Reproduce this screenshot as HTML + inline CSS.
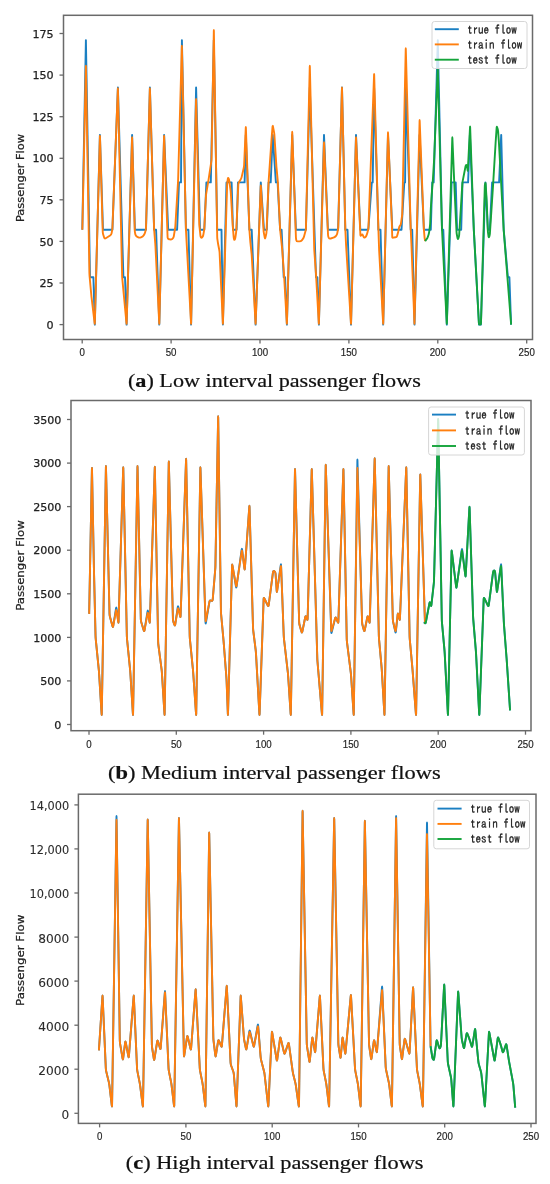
<!DOCTYPE html>
<html><head><meta charset="utf-8"><title>Passenger flows</title>
<style>
html,body{margin:0;padding:0;background:#fff;}
body{width:550px;height:1184px;overflow:hidden;}
svg{display:block;}
.yt{font-family:"DejaVu Sans",sans-serif;font-size:11.1px;fill:#222;stroke:#222;stroke-width:0.25px;}
.ytc{font-family:"DejaVu Sans",sans-serif;font-size:12.1px;fill:#2a2a2a;stroke:#2a2a2a;stroke-width:0.1px;}
.xt{font-family:"Liberation Sans",sans-serif;font-size:11.4px;fill:#262626;stroke:#262626;stroke-width:0.2px;}
.yl{font-family:"DejaVu Sans",sans-serif;font-size:11.2px;fill:#222;stroke:#222;stroke-width:0.25px;}
.lg{font-family:"IPAGothic","DejaVu Sans Mono",monospace;font-size:12.3px;fill:#1a1a1a;stroke:#1a1a1a;stroke-width:0.3px;}
.cap{font-family:"Liberation Serif",serif;font-size:18.2px;fill:#111;stroke:#111;stroke-width:0.2px;}
</style></head>
<body>
<svg width="550" height="1184" viewBox="0 0 550 1184">
<rect x="0" y="0" width="550" height="1184" fill="#fff"/>
<polyline points="82.3,229.8 85.9,40.1 90.0,277.2 93.4,277.2 94.8,324.6 99.9,134.9 103.0,229.8 112.4,229.8 117.9,87.5 123.4,277.2 125.0,277.2 126.6,324.6 132.1,134.9 134.9,229.8 146.0,229.8 149.9,87.5 154.1,229.8 156.1,229.8 159.3,324.6 164.1,134.9 168.2,229.8 177.1,229.8 179.0,182.4 181.0,182.4 181.9,40.1 185.9,229.8 188.4,229.8 191.1,324.6 196.1,87.5 200.0,229.8 204.3,229.8 206.4,182.4 210.8,182.4 213.8,40.1 217.2,229.8 221.5,229.8 222.9,324.6 226.5,182.4 231.6,182.4 233.0,229.8 236.6,229.8 238.0,182.4 244.6,182.4 245.8,134.9 249.4,229.8 251.7,229.8 255.6,324.6 260.8,182.4 264.0,229.8 266.8,229.8 268.6,182.4 270.7,182.4 272.7,134.9 275.9,182.4 277.6,182.4 280.1,229.8 281.6,229.8 283.7,277.2 285.1,277.2 286.9,324.6 292.2,134.9 295.9,229.8 305.9,229.8 309.8,87.5 316.0,277.2 317.4,277.2 318.9,324.6 324.0,134.9 327.9,229.8 338.1,229.8 342.0,87.5 345.3,229.8 347.5,229.8 351.0,324.6 356.0,134.9 360.3,229.8 368.3,229.8 371.8,182.4 372.7,182.4 374.1,87.5 378.4,229.8 380.5,229.8 383.2,324.6 388.0,134.9 392.3,229.8 401.5,229.8 404.3,182.4 405.1,182.4 405.8,87.5 410.7,229.8 412.2,229.8 414.5,324.6 419.6,134.9 423.9,229.8 430.8,229.8 432.2,182.4 433.7,182.4 437.8,40.1 442.0,229.8 443.3,229.8 446.8,324.6 451.6,182.4 455.7,182.4 457.1,229.8 461.2,229.8 462.5,182.4 468.1,182.4 469.9,134.9 473.8,229.8 479.0,324.6 480.9,324.6 485.4,182.4 487.9,229.8 489.8,229.8 492.1,182.4 499.1,182.4 501.2,134.9 503.7,229.8 507.9,277.2 509.4,277.2 511.1,324.6" fill="none" stroke="#1a7fc2" stroke-width="1.9" stroke-linejoin="round" stroke-linecap="butt" />
<path d="M82.35,229.77L85.87,66.48Q85.90,65.08 85.93,66.48L89.43,273.29Q89.46,274.69 89.58,276.09L91.29,294.92Q91.41,296.32 91.58,297.71L94.62,323.21Q94.79,324.60 94.83,323.20L99.90,136.35Q99.94,134.95 99.98,136.35L102.74,231.70Q102.79,233.10 103.19,234.44L104.15,237.59Q104.56,238.92 105.75,238.19L110.12,235.50Q111.32,234.77 111.57,233.39L112.13,230.32Q112.38,228.94 112.44,227.54L117.84,88.94Q117.89,87.54 117.92,88.94L122.12,275.79Q122.15,277.19 122.29,278.58L126.47,323.21Q126.60,324.60 126.64,323.20L132.06,138.01Q132.11,136.61 132.15,138.01L134.73,230.04Q134.77,231.44 135.04,232.81L135.39,234.56Q135.66,235.93 136.91,236.57L138.32,237.29Q139.57,237.93 140.86,237.39L141.48,237.13Q142.77,236.60 143.55,235.43L144.12,234.60Q144.90,233.43 145.22,232.07L145.64,230.31Q145.97,228.94 146.01,227.54L149.84,88.94Q149.88,87.54 149.92,88.94L154.10,228.38Q154.14,229.77 154.26,231.17L155.27,243.35Q155.38,244.75 155.45,246.15L159.23,323.20Q159.29,324.60 159.33,323.20L164.06,136.35Q164.09,134.95 164.14,136.35L167.60,237.53Q167.65,238.92 169.01,239.24L169.84,239.44Q171.20,239.76 172.24,239.01L172.47,238.84Q173.51,238.09 173.73,236.71L175.06,228.50Q175.29,227.11 175.37,225.72L178.05,181.26Q178.13,179.87 178.17,178.47L181.82,46.51Q181.86,45.12 181.89,46.51L185.92,228.38Q185.95,229.77 186.02,231.17L186.59,241.69Q186.66,243.08 186.74,244.48L191.03,323.20Q191.10,324.60 191.13,323.20L196.05,99.75Q196.08,98.35 196.11,99.75L199.24,223.38Q199.28,224.78 199.43,226.18L200.37,235.04Q200.52,236.43 200.92,237.25L201.01,237.44Q201.41,238.26 202.13,237.44L202.29,237.25Q203.01,236.43 203.27,235.05L203.99,231.15Q204.25,229.77 204.32,228.38L205.96,196.24Q206.03,194.84 206.26,193.46L208.47,180.08Q208.69,178.70 208.91,177.32L211.33,161.45Q211.54,160.07 211.56,158.67L213.82,30.71Q213.85,29.31 213.87,30.71L217.20,236.69Q217.22,238.09 217.42,239.48L217.74,241.70Q217.94,243.08 218.20,244.46L219.27,250.03Q219.53,251.40 219.60,252.80L222.85,323.20Q222.91,324.60 222.95,323.20L227.13,184.59Q227.18,183.19 227.38,181.81L227.86,178.59Q228.06,177.21 228.54,178.40L228.65,178.67Q229.13,179.87 229.32,181.25L230.54,190.13Q230.73,191.51 230.81,192.91L232.60,223.39Q232.68,224.78 232.80,226.18L233.64,236.70Q233.75,238.09 234.07,239.14L234.14,239.37Q234.46,240.42 234.86,239.37L234.95,239.14Q235.35,238.09 235.53,236.71L236.05,232.83Q236.24,231.44 236.30,230.04L237.24,209.55Q237.30,208.15 237.36,206.75L238.31,184.59Q238.37,183.19 239.10,182.00L240.67,179.40Q241.39,178.20 241.70,176.84L243.74,167.92Q244.06,166.56 244.12,165.16L245.77,127.53Q245.83,126.13 245.88,127.53L249.34,228.38Q249.39,229.77 249.49,231.17L250.17,240.02Q250.28,241.42 250.43,242.81L251.55,253.34Q251.70,254.73 251.78,256.13L255.53,323.20Q255.61,324.60 255.66,323.20L260.71,186.26Q260.76,184.86 260.85,186.25L263.52,230.04Q263.60,231.44 263.85,232.82L264.78,237.88Q265.03,239.26 265.34,237.89L266.13,234.47Q266.45,233.10 266.51,231.70L268.52,183.26Q268.58,181.86 268.68,180.47L271.50,139.67Q271.60,138.28 271.71,136.88L272.55,126.53Q272.67,125.13 272.94,126.51L274.00,131.91Q274.27,133.29 274.36,134.68L276.31,165.16Q276.40,166.56 276.53,167.95L277.69,180.14Q277.82,181.53 277.89,182.93L280.06,228.38Q280.13,229.77 280.28,231.17L282.11,248.35Q282.26,249.74 282.36,251.13L283.94,273.30Q284.04,274.69 284.12,276.09L286.80,323.20Q286.88,324.60 286.92,323.20L292.18,132.52Q292.21,131.12 292.26,132.52L295.90,236.69Q295.95,238.09 296.17,239.48L296.26,240.04Q296.48,241.42 297.88,241.42L299.52,241.42Q300.92,241.42 301.80,240.33L302.71,239.19Q303.59,238.09 303.96,236.74L305.52,231.12Q305.90,229.77 305.93,228.38L309.77,66.48Q309.81,65.08 309.84,66.48L314.21,248.34Q314.25,249.74 314.35,251.13L315.93,273.30Q316.03,274.69 316.11,276.09L318.79,323.20Q318.87,324.60 318.91,323.20L323.98,143.00Q324.02,141.60 324.08,143.00L327.52,223.39Q327.58,224.78 327.64,226.18L328.05,235.03Q328.11,236.43 328.67,237.55L328.79,237.80Q329.35,238.92 330.69,238.51L333.35,237.68Q334.68,237.26 335.64,236.23L336.04,235.79Q336.99,234.77 337.25,233.39L337.98,229.49Q338.24,228.11 338.27,226.71L341.93,88.27Q341.97,86.87 342.00,88.27L345.31,228.38Q345.35,229.77 345.41,231.17L345.99,243.35Q346.06,244.75 346.14,246.14L350.95,323.20Q351.03,324.60 351.07,323.20L355.97,138.01Q356.01,136.61 356.07,138.01L359.86,223.39Q359.92,224.78 359.98,226.18L360.39,235.03Q360.45,236.43 361.25,235.31L361.43,235.06Q362.23,233.93 362.82,235.20L363.59,236.83Q364.18,238.09 365.06,237.34L365.26,237.18Q366.14,236.43 366.59,235.10L367.11,233.59Q367.56,232.27 367.85,230.90L368.15,229.48Q368.45,228.11 368.50,226.71L374.08,74.63Q374.13,73.23 374.17,74.63L378.36,228.38Q378.40,229.77 378.45,231.17L379.06,248.34Q379.11,249.74 379.19,251.14L383.12,323.20Q383.20,324.60 383.23,323.20L387.96,133.02Q387.99,131.62 388.05,133.02L391.84,223.39Q391.90,224.78 391.94,226.18L392.22,236.69Q392.26,238.09 393.14,237.72L393.33,237.64Q394.21,237.26 395.33,237.26L395.58,237.26Q396.70,237.26 397.08,235.91L397.74,233.62Q398.12,232.27 398.42,230.90L399.07,227.82Q399.37,226.45 400.01,225.70L400.15,225.53Q400.79,224.78 400.99,223.40L402.01,216.19Q402.21,214.80 402.24,213.40L405.73,48.84Q405.76,47.44 405.80,48.84L410.70,228.38Q410.74,229.77 410.81,231.17L411.38,243.35Q411.45,244.75 411.50,246.15L414.42,323.20Q414.47,324.60 414.51,323.20L419.59,120.71Q419.62,119.31 419.68,120.71L423.84,228.38Q423.89,229.77 424.01,231.17L424.48,236.70Q424.60,238.09 424.84,239.44L425.13,241.09" fill="none" stroke="#ff7f0e" stroke-width="1.9" stroke-linejoin="round" stroke-linecap="butt"/>
<path d="M425.13,241.09L426.59,239.20Q427.44,238.09 427.87,236.76L428.62,234.44Q429.04,233.10 429.22,231.71L429.93,226.17Q430.11,224.78 430.17,223.39L430.76,209.55Q430.82,208.15 430.91,206.75L431.44,198.73Q431.53,197.33 431.64,195.94L432.66,182.93Q432.77,181.53 432.86,180.13L434.11,159.64Q434.20,158.24 434.25,156.84L437.69,69.80Q437.75,68.41 437.79,69.81L441.98,228.38Q442.01,229.77 442.09,231.17L446.74,323.20Q446.81,324.60 446.85,323.20L452.28,138.01Q452.32,136.61 452.38,138.01L454.57,190.11Q454.63,191.51 454.70,192.91L456.52,231.70Q456.59,233.10 456.84,234.48L457.57,238.38Q457.83,239.76 458.32,238.45L458.58,237.74Q459.07,236.43 459.16,235.03L462.36,183.59Q462.45,182.20 462.72,180.82L465.56,166.27Q465.83,164.89 466.31,164.89L466.41,164.89Q466.89,164.89 467.08,166.28L467.60,170.16Q467.78,171.55 467.85,170.15L470.02,127.03Q470.09,125.63 470.14,127.03L473.77,228.38Q473.82,229.77 473.90,231.17L478.90,323.20Q478.98,324.60 479.86,324.60L480.05,324.60Q480.93,324.60 480.97,323.20L484.80,186.26Q484.84,184.86 485.16,183.73L485.23,183.49Q485.55,182.36 485.64,183.76L486.53,198.43Q486.62,199.83 486.67,201.23L487.81,230.04Q487.86,231.44 488.05,232.83L488.56,236.71Q488.75,238.09 489.18,236.76L489.39,236.10Q489.82,234.77 489.91,233.37L493.10,184.59Q493.19,183.19 493.28,181.80L495.60,143.00Q495.68,141.60 495.78,140.21L496.65,127.53Q496.75,126.13 497.18,127.46L497.56,128.63Q497.99,129.96 498.10,131.35L498.77,140.21Q498.88,141.60 498.95,143.00L503.60,228.38Q503.68,229.77 503.79,231.17L511.14,324.60" fill="none" stroke="#14a43a" stroke-width="1.9" stroke-linejoin="round" stroke-linecap="butt"/>
<rect x="63.5" y="15.3" width="469.0" height="324.2" fill="none" stroke="#6a6a6a" stroke-width="1.5"/>
<line x1="59.5" y1="324.6" x2="63.5" y2="324.6" stroke="#6a6a6a" stroke-width="1.3"/>
<text x="53.6" y="328.7" text-anchor="end" class="yt">0</text>
<line x1="59.5" y1="283.0" x2="63.5" y2="283.0" stroke="#6a6a6a" stroke-width="1.3"/>
<text x="53.6" y="287.1" text-anchor="end" class="yt">25</text>
<line x1="59.5" y1="241.4" x2="63.5" y2="241.4" stroke="#6a6a6a" stroke-width="1.3"/>
<text x="53.6" y="245.5" text-anchor="end" class="yt">50</text>
<line x1="59.5" y1="199.8" x2="63.5" y2="199.8" stroke="#6a6a6a" stroke-width="1.3"/>
<text x="53.6" y="203.9" text-anchor="end" class="yt">75</text>
<line x1="59.5" y1="158.3" x2="63.5" y2="158.3" stroke="#6a6a6a" stroke-width="1.3"/>
<text x="53.6" y="162.4" text-anchor="end" class="yt">100</text>
<line x1="59.5" y1="116.7" x2="63.5" y2="116.7" stroke="#6a6a6a" stroke-width="1.3"/>
<text x="53.6" y="120.8" text-anchor="end" class="yt">125</text>
<line x1="59.5" y1="75.1" x2="63.5" y2="75.1" stroke="#6a6a6a" stroke-width="1.3"/>
<text x="53.6" y="79.2" text-anchor="end" class="yt">150</text>
<line x1="59.5" y1="33.5" x2="63.5" y2="33.5" stroke="#6a6a6a" stroke-width="1.3"/>
<text x="53.6" y="37.6" text-anchor="end" class="yt">175</text>
<line x1="82.2" y1="339.5" x2="82.2" y2="343.5" stroke="#6a6a6a" stroke-width="1.3"/>
<text x="82.2" y="356.3" text-anchor="middle" class="xt" textLength="5.4" lengthAdjust="spacingAndGlyphs">0</text>
<line x1="171.1" y1="339.5" x2="171.1" y2="343.5" stroke="#6a6a6a" stroke-width="1.3"/>
<text x="171.1" y="356.3" text-anchor="middle" class="xt" textLength="10.8" lengthAdjust="spacingAndGlyphs">50</text>
<line x1="260.0" y1="339.5" x2="260.0" y2="343.5" stroke="#6a6a6a" stroke-width="1.3"/>
<text x="260.0" y="356.3" text-anchor="middle" class="xt" textLength="16.2" lengthAdjust="spacingAndGlyphs">100</text>
<line x1="348.9" y1="339.5" x2="348.9" y2="343.5" stroke="#6a6a6a" stroke-width="1.3"/>
<text x="348.9" y="356.3" text-anchor="middle" class="xt" textLength="16.2" lengthAdjust="spacingAndGlyphs">150</text>
<line x1="437.8" y1="339.5" x2="437.8" y2="343.5" stroke="#6a6a6a" stroke-width="1.3"/>
<text x="437.8" y="356.3" text-anchor="middle" class="xt" textLength="16.2" lengthAdjust="spacingAndGlyphs">200</text>
<line x1="526.7" y1="339.5" x2="526.7" y2="343.5" stroke="#6a6a6a" stroke-width="1.3"/>
<text x="526.7" y="356.3" text-anchor="middle" class="xt" textLength="16.2" lengthAdjust="spacingAndGlyphs">250</text>
<text transform="translate(24,178) rotate(-90)" x="0" y="0" text-anchor="middle" class="yl" textLength="88" lengthAdjust="spacingAndGlyphs">Passenger Flow</text>
<rect x="432" y="21.5" width="95" height="47.0" rx="2.5" ry="2.5" fill="#ffffff" fill-opacity="0.8" stroke="#d6d6d6" stroke-width="1"/>
<line x1="434.8" y1="29.2" x2="458.8" y2="29.2" stroke="#1a7fc2" stroke-width="1.9"/>
<text x="466.9" y="33.5" class="lg" textLength="49.9" lengthAdjust="spacingAndGlyphs">true flow</text>
<line x1="434.8" y1="44.4" x2="458.8" y2="44.4" stroke="#ff7f0e" stroke-width="1.9"/>
<text x="466.9" y="48.7" class="lg" textLength="55.5" lengthAdjust="spacingAndGlyphs">train flow</text>
<line x1="434.8" y1="59.7" x2="458.8" y2="59.7" stroke="#14a43a" stroke-width="1.9"/>
<text x="466.9" y="64.0" class="lg" textLength="49.9" lengthAdjust="spacingAndGlyphs">test flow</text>
<path d="M89.16,613.87L91.92,468.90Q91.96,467.10 91.99,468.89L93.88,565.94Q93.91,567.74 93.95,569.54L95.54,635.83Q95.59,637.63 95.77,639.42L98.76,669.39Q98.94,671.18 99.05,672.97L101.62,714.11Q101.73,715.91 101.76,714.11L105.90,466.94Q105.93,465.14 105.97,466.94L109.51,613.46Q109.56,615.26 110.02,617.00L112.45,626.11Q112.91,627.84 113.19,626.07L116.02,608.38Q116.30,606.60 116.53,608.39L118.27,621.87Q118.50,623.65 118.55,621.85L123.19,468.06Q123.25,466.26 123.29,468.06L126.84,635.83Q126.88,637.63 127.06,639.42L130.06,669.39Q130.23,671.18 130.35,672.97L132.92,714.11Q133.03,715.91 133.06,714.11L137.47,466.94Q137.50,465.14 137.54,466.94L140.81,619.06Q140.85,620.86 141.37,622.58L143.69,630.31Q144.20,632.04 144.49,630.26L147.52,611.28Q147.80,609.50 148.05,611.28L149.54,621.87Q149.79,623.65 149.85,621.85L154.77,467.50Q154.82,465.70 154.86,467.50L158.14,641.42Q158.18,643.22 158.41,645.01L161.58,669.39Q161.81,671.18 161.92,672.97L164.49,714.11Q164.60,715.91 164.63,714.11L168.76,462.47Q168.79,460.67 168.84,462.46L172.94,619.06Q172.98,620.86 173.58,622.55L174.35,624.75Q174.94,626.45 175.20,624.67L177.74,607.08Q178.00,605.30 178.35,607.07L180.18,616.29Q180.53,618.06 180.59,616.26L186.05,459.67Q186.12,457.87 186.15,459.67L189.71,635.83Q189.75,637.63 189.93,639.42L192.92,669.39Q193.10,671.18 193.22,672.97L196.05,714.11Q196.17,715.91 196.20,714.11L200.34,468.06Q200.37,466.26 200.43,468.06L205.54,622.70Q205.60,624.50 205.90,622.73L209.48,601.66Q209.78,599.89 211.04,600.52L211.32,600.66Q212.57,601.29 212.72,599.49L215.22,569.53Q215.37,567.74 215.40,565.94L218.13,417.18Q218.16,415.38 218.19,417.18L220.93,610.67Q220.96,612.47 221.12,614.26L223.59,641.43Q223.75,643.22 223.89,645.02L226.41,677.77Q226.54,679.56 226.61,681.36L227.87,714.11Q227.94,715.91 227.99,714.11L232.08,565.34Q232.13,563.54 232.43,565.32L236.00,586.72Q236.30,588.50 236.55,586.72L241.65,549.58Q241.90,547.80 242.12,549.59L244.48,568.75Q244.71,570.53 244.84,568.74L249.33,506.63Q249.46,504.84 249.51,506.64L253.03,627.44Q253.09,629.24 253.31,631.03L255.66,649.82Q255.88,651.61 255.98,653.40L259.41,714.11Q259.51,715.91 259.58,714.11L263.64,598.89Q263.70,597.09 264.49,598.71L267.67,605.26Q268.45,606.88 268.69,605.09L272.97,572.32Q273.20,570.53 274.21,571.16L274.43,571.30Q275.44,571.93 275.56,573.73L276.72,591.10Q276.84,592.90 277.09,591.12L280.75,565.08Q281.00,563.30 281.07,565.10L283.75,635.83Q283.82,637.63 284.03,639.42L287.81,672.18Q288.01,673.97 288.13,675.77L290.69,714.11Q290.81,715.91 290.84,714.11L294.97,469.73Q295.00,467.93 295.05,469.73L299.14,621.85Q299.19,623.65 299.68,625.38L301.49,631.71Q301.98,633.44 302.34,631.67L305.26,617.03Q305.62,615.26 306.21,616.96L306.98,619.16Q307.57,620.86 307.62,619.06L311.71,469.73Q311.76,467.93 311.82,469.73L317.30,658.20Q317.35,659.99 317.50,661.79L321.95,714.11Q322.10,715.91 322.13,714.11L325.71,465.54Q325.73,463.74 325.79,465.54L331.24,632.20Q331.30,634.00 331.72,632.25L335.09,618.41Q335.51,616.66 336.18,618.33L337.64,621.98Q338.31,623.65 338.37,621.85L343.35,469.73Q343.41,467.93 343.45,469.73L346.73,638.63Q346.76,640.42 346.99,642.21L350.73,672.19Q350.96,673.97 351.08,675.77L353.63,714.11Q353.75,715.91 353.78,714.11L357.37,460.30Q357.40,458.50 357.45,460.30L362.08,621.85Q362.13,623.65 362.60,625.39L363.90,630.30Q364.37,632.04 364.72,630.27L367.37,617.03Q367.72,615.26 368.13,617.02L369.27,621.90Q369.68,623.65 369.73,621.85L374.65,459.11Q374.71,457.31 374.75,459.11L378.85,635.83Q378.90,637.63 379.06,639.42L381.53,666.59Q381.69,668.38 381.80,670.18L384.38,714.11Q384.48,715.91 384.51,714.11L388.65,466.94Q388.68,465.14 388.72,466.94L392.82,619.06Q392.87,620.86 393.26,622.61L395.31,631.74Q395.70,633.50 395.89,631.71L397.71,614.26Q397.90,612.47 398.30,614.22L399.44,619.10Q399.85,620.86 399.93,619.06L406.20,468.06Q406.28,466.26 406.31,468.06L409.60,635.83Q409.63,637.63 409.79,639.42L412.26,666.59Q412.43,668.38 412.56,670.18L415.92,714.11Q416.06,715.91 416.09,714.11L420.22,475.33Q420.25,473.53 420.31,475.32L424.94,621.85Q425.00,623.65 424.64,623.02L424.56,622.88Q424.20,622.25 424.83,622.88L424.97,623.02Q425.59,623.65 425.93,621.88L429.46,603.06Q429.79,601.29 430.23,603.03L430.75,605.13Q431.19,606.88 431.39,605.09L433.79,583.51Q433.99,581.72 434.03,579.92L438.14,419.97Q438.18,418.17 438.21,419.97L441.79,619.06Q441.82,620.86 441.98,622.65L444.45,649.81Q444.62,651.61 444.71,653.41L447.88,714.11Q447.97,715.91 448.01,714.11L451.57,551.37Q451.61,549.57 451.83,551.35L456.15,586.92Q456.36,588.71 456.61,586.92L461.75,549.78Q462.00,548.00 462.22,549.79L465.38,575.74Q465.59,577.52 465.69,575.73L469.41,507.47Q469.51,505.68 469.57,507.47L473.09,616.26Q473.15,618.06 473.30,619.85L475.79,649.81Q475.94,651.61 476.04,653.41L479.21,714.11Q479.30,715.91 479.37,714.11L483.71,598.89Q483.78,597.09 484.56,598.71L487.74,605.26Q488.53,606.88 488.76,605.09L493.05,572.32Q493.29,570.53 494.04,570.53L494.21,570.53Q494.97,570.53 495.12,572.33L496.77,591.11Q496.92,592.90 497.17,591.12L500.85,565.08Q501.10,563.30 501.18,565.10L503.83,621.85Q503.92,623.65 504.05,625.45L506.58,658.20Q506.71,659.99 506.83,661.79L510.07,710.32" fill="none" stroke="#1a7fc2" stroke-width="1.9" stroke-linejoin="round" stroke-linecap="butt"/>
<path d="M89.16,613.87L91.92,468.90Q91.96,467.10 91.99,468.89L93.88,565.94Q93.91,567.74 93.95,569.54L95.54,635.83Q95.59,637.63 95.77,639.42L98.76,669.39Q98.94,671.18 99.05,672.97L101.62,714.11Q101.73,715.91 101.76,714.11L105.90,466.94Q105.93,465.14 105.97,466.94L109.51,613.46Q109.56,615.26 110.02,617.00L112.45,626.11Q112.91,627.84 113.23,626.07L115.95,610.89Q116.26,609.11 116.54,610.89L118.23,621.87Q118.50,623.65 118.55,621.85L123.19,468.06Q123.25,466.26 123.29,468.06L126.84,635.83Q126.88,637.63 127.06,639.42L130.06,669.39Q130.23,671.18 130.35,672.97L132.92,714.11Q133.03,715.91 133.06,714.11L137.47,466.94Q137.50,465.14 137.54,466.94L140.81,619.06Q140.85,620.86 141.37,622.58L143.69,630.31Q144.20,632.04 144.52,630.27L147.52,613.68Q147.84,611.91 148.13,613.68L149.50,621.88Q149.79,623.65 149.85,621.85L154.77,467.50Q154.82,465.70 154.86,467.50L158.14,641.42Q158.18,643.22 158.41,645.01L161.58,669.39Q161.81,671.18 161.92,672.97L164.49,714.11Q164.60,715.91 164.63,714.11L168.76,462.47Q168.79,460.67 168.84,462.46L172.94,619.06Q172.98,620.86 173.58,622.55L174.35,624.75Q174.94,626.45 175.23,624.67L177.73,609.21Q178.01,607.44 178.43,609.19L180.11,616.31Q180.53,618.06 180.59,616.26L186.05,459.67Q186.12,457.87 186.15,459.67L189.71,635.83Q189.75,637.63 189.93,639.42L192.92,669.39Q193.10,671.18 193.22,672.97L196.05,714.11Q196.17,715.91 196.20,714.11L200.34,468.06Q200.37,466.26 200.43,468.06L205.53,620.45Q205.59,622.25 205.92,620.48L209.45,601.66Q209.78,599.89 211.04,600.52L211.32,600.66Q212.57,601.29 212.72,599.49L215.22,569.53Q215.37,567.74 215.40,565.94L218.13,417.18Q218.16,415.38 218.19,417.18L220.93,610.67Q220.96,612.47 221.12,614.26L223.59,641.43Q223.75,643.22 223.89,645.02L226.41,677.77Q226.54,679.56 226.61,681.36L227.87,714.11Q227.94,715.91 227.99,714.11L232.08,565.34Q232.13,563.54 232.44,565.32L236.01,585.54Q236.32,587.31 236.59,585.53L241.65,551.35Q241.91,549.57 242.15,551.35L244.47,568.75Q244.71,570.53 244.84,568.74L249.33,506.63Q249.46,504.84 249.51,506.64L253.03,627.44Q253.09,629.24 253.31,631.03L255.66,649.82Q255.88,651.61 255.98,653.40L259.41,714.11Q259.51,715.91 259.58,714.11L263.64,598.89Q263.70,597.09 264.49,598.71L267.67,605.26Q268.45,606.88 268.69,605.09L272.97,572.32Q273.20,570.53 274.21,571.16L274.43,571.30Q275.44,571.93 275.56,573.73L276.72,591.10Q276.84,592.90 277.10,591.12L280.76,566.72Q281.03,564.94 281.10,566.74L283.75,635.83Q283.82,637.63 284.03,639.42L287.81,672.18Q288.01,673.97 288.13,675.77L290.69,714.11Q290.81,715.91 290.84,714.11L294.97,469.73Q295.00,467.93 295.05,469.73L299.14,621.85Q299.19,623.65 299.68,625.38L301.49,631.71Q301.98,633.44 302.34,631.67L305.26,617.03Q305.62,615.26 306.21,616.96L306.98,619.16Q307.57,620.86 307.62,619.06L311.71,469.73Q311.76,467.93 311.82,469.73L317.30,658.20Q317.35,659.99 317.50,661.79L321.95,714.11Q322.10,715.91 322.13,714.11L325.71,465.54Q325.73,463.74 325.79,465.54L331.26,630.24Q331.32,632.04 331.79,630.30L335.04,618.40Q335.51,616.66 336.18,618.33L337.64,621.98Q338.31,623.65 338.37,621.85L343.35,469.73Q343.41,467.93 343.45,469.73L346.73,638.63Q346.76,640.42 346.99,642.21L350.73,672.19Q350.96,673.97 351.08,675.77L353.63,714.11Q353.75,715.91 353.78,714.11L357.36,468.90Q357.38,467.10 357.44,468.89L362.08,621.85Q362.13,623.65 362.60,625.39L363.90,630.30Q364.37,632.04 364.72,630.27L367.37,617.03Q367.72,615.26 368.13,617.02L369.27,621.90Q369.68,623.65 369.73,621.85L374.65,459.11Q374.71,457.31 374.75,459.11L378.85,635.83Q378.90,637.63 379.06,639.42L381.53,666.59Q381.69,668.38 381.80,670.18L384.38,714.11Q384.48,715.91 384.51,714.11L388.65,466.94Q388.68,465.14 388.72,466.94L392.82,619.06Q392.87,620.86 393.30,622.60L395.22,630.29Q395.66,632.04 395.87,630.25L397.69,614.26Q397.90,612.47 398.30,614.22L399.44,619.10Q399.85,620.86 399.93,619.06L406.20,468.06Q406.28,466.26 406.31,468.06L409.60,635.83Q409.63,637.63 409.79,639.42L412.26,666.59Q412.43,668.38 412.56,670.18L415.92,714.11Q416.06,715.91 416.09,714.11L420.22,475.33Q420.25,473.53 420.31,475.32L425.00,623.65" fill="none" stroke="#ff7f0e" stroke-width="1.9" stroke-linejoin="round" stroke-linecap="butt"/>
<path d="M424.20,622.25L424.97,623.02Q425.59,623.65 425.93,621.88L429.46,603.06Q429.79,601.29 430.23,603.03L430.75,605.13Q431.19,606.88 431.39,605.09L433.79,583.51Q433.99,581.72 434.03,579.92L438.14,419.97Q438.18,418.17 438.21,419.97L441.79,619.06Q441.82,620.86 441.98,622.65L444.45,649.81Q444.62,651.61 444.71,653.41L447.88,714.11Q447.97,715.91 448.01,714.11L451.57,551.37Q451.61,549.57 451.83,551.35L456.15,586.92Q456.36,588.71 456.62,586.92L461.70,551.35Q461.96,549.57 462.19,551.35L465.36,575.74Q465.59,577.52 465.69,575.73L469.41,507.47Q469.51,505.68 469.57,507.47L473.09,616.26Q473.15,618.06 473.30,619.85L475.79,649.81Q475.94,651.61 476.04,653.41L479.21,714.11Q479.30,715.91 479.37,714.11L483.71,598.89Q483.78,597.09 484.56,598.71L487.74,605.26Q488.53,606.88 488.76,605.09L493.05,572.32Q493.29,570.53 494.04,570.53L494.21,570.53Q494.97,570.53 495.12,572.33L496.77,591.11Q496.92,592.90 497.19,591.12L500.85,566.72Q501.12,564.94 501.20,566.74L503.83,621.85Q503.92,623.65 504.05,625.45L506.58,658.20Q506.71,659.99 506.83,661.79L510.07,710.32" fill="none" stroke="#14a43a" stroke-width="1.9" stroke-linejoin="round" stroke-linecap="butt"/>
<rect x="71" y="400.5" width="460" height="330.20000000000005" fill="none" stroke="#6a6a6a" stroke-width="1.5"/>
<line x1="67" y1="724.5" x2="71" y2="724.5" stroke="#6a6a6a" stroke-width="1.3"/>
<text x="61.4" y="728.6" text-anchor="end" class="yt">0</text>
<line x1="67" y1="680.9" x2="71" y2="680.9" stroke="#6a6a6a" stroke-width="1.3"/>
<text x="61.4" y="685.0" text-anchor="end" class="yt">500</text>
<line x1="67" y1="637.4" x2="71" y2="637.4" stroke="#6a6a6a" stroke-width="1.3"/>
<text x="61.4" y="641.5" text-anchor="end" class="yt">1000</text>
<line x1="67" y1="593.8" x2="71" y2="593.8" stroke="#6a6a6a" stroke-width="1.3"/>
<text x="61.4" y="597.9" text-anchor="end" class="yt">1500</text>
<line x1="67" y1="550.2" x2="71" y2="550.2" stroke="#6a6a6a" stroke-width="1.3"/>
<text x="61.4" y="554.3" text-anchor="end" class="yt">2000</text>
<line x1="67" y1="506.6" x2="71" y2="506.6" stroke="#6a6a6a" stroke-width="1.3"/>
<text x="61.4" y="510.7" text-anchor="end" class="yt">2500</text>
<line x1="67" y1="463.1" x2="71" y2="463.1" stroke="#6a6a6a" stroke-width="1.3"/>
<text x="61.4" y="467.2" text-anchor="end" class="yt">3000</text>
<line x1="67" y1="419.5" x2="71" y2="419.5" stroke="#6a6a6a" stroke-width="1.3"/>
<text x="61.4" y="423.6" text-anchor="end" class="yt">3500</text>
<line x1="89.0" y1="730.7" x2="89.0" y2="734.7" stroke="#6a6a6a" stroke-width="1.3"/>
<text x="89.0" y="747.6" text-anchor="middle" class="xt" textLength="5.4" lengthAdjust="spacingAndGlyphs">0</text>
<line x1="176.3" y1="730.7" x2="176.3" y2="734.7" stroke="#6a6a6a" stroke-width="1.3"/>
<text x="176.3" y="747.6" text-anchor="middle" class="xt" textLength="10.8" lengthAdjust="spacingAndGlyphs">50</text>
<line x1="263.6" y1="730.7" x2="263.6" y2="734.7" stroke="#6a6a6a" stroke-width="1.3"/>
<text x="263.6" y="747.6" text-anchor="middle" class="xt" textLength="16.2" lengthAdjust="spacingAndGlyphs">100</text>
<line x1="350.9" y1="730.7" x2="350.9" y2="734.7" stroke="#6a6a6a" stroke-width="1.3"/>
<text x="350.9" y="747.6" text-anchor="middle" class="xt" textLength="16.2" lengthAdjust="spacingAndGlyphs">150</text>
<line x1="438.2" y1="730.7" x2="438.2" y2="734.7" stroke="#6a6a6a" stroke-width="1.3"/>
<text x="438.2" y="747.6" text-anchor="middle" class="xt" textLength="16.2" lengthAdjust="spacingAndGlyphs">200</text>
<line x1="525.5" y1="730.7" x2="525.5" y2="734.7" stroke="#6a6a6a" stroke-width="1.3"/>
<text x="525.5" y="747.6" text-anchor="middle" class="xt" textLength="16.2" lengthAdjust="spacingAndGlyphs">250</text>
<text transform="translate(24,565.5) rotate(-90)" x="0" y="0" text-anchor="middle" class="yl" textLength="90.7" lengthAdjust="spacingAndGlyphs">Passenger Flow</text>
<rect x="428.6" y="407" width="95.79999999999995" height="48" rx="2.5" ry="2.5" fill="#ffffff" fill-opacity="0.8" stroke="#d6d6d6" stroke-width="1"/>
<line x1="432" y1="414.6" x2="456" y2="414.6" stroke="#1a7fc2" stroke-width="1.9"/>
<text x="464.6" y="418.9" class="lg" textLength="49.9" lengthAdjust="spacingAndGlyphs">true flow</text>
<line x1="432" y1="430.4" x2="456" y2="430.4" stroke="#ff7f0e" stroke-width="1.9"/>
<text x="464.6" y="434.7" class="lg" textLength="55.5" lengthAdjust="spacingAndGlyphs">train flow</text>
<line x1="432" y1="446" x2="456" y2="446" stroke="#14a43a" stroke-width="1.9"/>
<text x="464.6" y="450.3" class="lg" textLength="49.9" lengthAdjust="spacingAndGlyphs">test flow</text>
<path d="M98.91,1050.41L102.42,996.47Q102.54,994.67 102.62,996.47L105.81,1068.12Q105.89,1069.92 106.31,1071.67L108.81,1082.10Q109.23,1083.86 109.44,1085.64L111.81,1105.76Q112.02,1107.55 112.05,1105.75L116.47,816.80Q116.50,815.00 116.53,816.80L119.80,1040.25Q119.83,1042.05 120.13,1043.82L122.60,1058.67Q122.90,1060.44 123.12,1058.66L125.18,1042.44Q125.41,1040.66 125.74,1042.42L128.42,1056.45Q128.75,1058.21 128.89,1056.42L133.63,996.46Q133.77,994.67 133.85,996.47L137.04,1068.12Q137.12,1069.92 137.47,1071.68L139.55,1082.09Q139.91,1083.86 140.14,1085.64L142.74,1105.76Q142.97,1107.55 143.00,1105.75L147.69,820.33Q147.72,818.53 147.75,820.33L151.87,1044.43Q151.90,1046.23 152.17,1048.01L153.86,1059.22Q154.13,1061.00 154.41,1059.22L157.20,1041.32Q157.48,1039.54 157.99,1041.27L160.03,1048.13Q160.54,1049.85 160.68,1048.06L164.87,991.80Q165.00,990.00 165.08,991.80L168.55,1068.12Q168.63,1069.92 168.98,1071.68L171.07,1082.09Q171.42,1083.86 171.63,1085.64L174.00,1105.76Q174.21,1107.55 174.24,1105.75L178.92,818.93Q178.95,817.13 178.99,818.93L183.93,1055.58Q183.97,1057.38 184.23,1055.60L187.05,1036.86Q187.31,1035.08 187.73,1036.83L190.52,1048.66Q190.94,1050.41 191.08,1048.62L195.54,990.05Q195.68,988.26 195.77,990.06L199.77,1068.12Q199.86,1069.92 200.22,1071.68L202.30,1082.09Q202.65,1083.86 202.86,1085.64L205.23,1105.76Q205.44,1107.55 205.46,1105.75L209.16,833.43Q209.18,831.63 209.22,833.43L213.33,1037.46Q213.37,1039.26 213.59,1041.05L215.38,1055.59Q215.60,1057.38 215.87,1055.60L218.11,1041.04Q218.39,1039.26 219.05,1040.93L221.06,1045.95Q221.73,1047.62 221.88,1045.83L226.61,986.71Q226.75,984.91 226.84,986.71L230.57,1062.55Q230.66,1064.35 231.28,1066.04L233.10,1071.02Q233.72,1072.71 233.87,1074.50L236.37,1105.75Q236.51,1107.55 236.58,1105.75L240.63,996.47Q240.69,994.67 240.83,996.46L243.91,1037.47Q244.04,1039.26 244.39,1041.03L245.92,1048.65Q246.27,1050.41 246.55,1048.63L249.32,1031.28Q249.60,1029.50 250.01,1031.25L253.39,1045.87Q253.80,1047.62 254.11,1045.85L257.69,1025.27Q258.00,1023.50 258.14,1025.29L260.63,1056.98Q260.77,1058.77 261.23,1060.51L263.94,1070.96Q264.40,1072.71 264.60,1074.50L268.10,1105.76Q268.30,1107.55 268.39,1105.75L271.84,1032.70Q271.93,1030.90 272.22,1032.68L276.66,1059.78Q276.95,1061.56 277.18,1059.77L280.05,1038.26Q280.29,1036.47 280.70,1038.23L284.07,1052.84Q284.48,1054.59 285.05,1052.88L288.09,1043.76Q288.66,1042.05 288.90,1043.83L292.60,1070.92Q292.84,1072.71 293.28,1074.45L295.19,1082.11Q295.63,1083.86 295.88,1085.64L298.72,1105.76Q298.98,1107.55 299.00,1105.75L302.58,811.69Q302.60,809.89 302.63,811.69L306.75,1043.04Q306.78,1044.84 307.06,1046.62L309.30,1061.17Q309.57,1062.95 309.76,1061.16L312.17,1038.27Q312.36,1036.47 312.66,1038.25L314.85,1051.42Q315.15,1053.20 315.30,1051.40L319.75,996.46Q319.89,994.67 319.98,996.47L323.43,1068.12Q323.52,1069.92 323.87,1071.68L325.95,1082.09Q326.31,1083.86 326.52,1085.64L328.88,1105.76Q329.09,1107.55 329.13,1105.75L334.15,818.93Q334.18,817.13 334.22,818.93L338.33,1043.04Q338.37,1044.84 338.65,1046.61L340.31,1056.99Q340.60,1058.77 340.75,1056.98L342.39,1038.27Q342.55,1036.47 342.82,1038.25L345.06,1052.81Q345.34,1054.59 345.50,1052.80L350.75,995.90Q350.91,994.11 351.01,995.91L355.00,1068.12Q355.10,1069.92 355.45,1071.68L357.53,1082.09Q357.89,1083.86 358.10,1085.64L360.46,1105.76Q360.67,1107.55 360.70,1105.75L364.83,821.72Q364.86,819.92 364.89,821.72L369.01,1043.04Q369.04,1044.84 369.30,1046.62L371.01,1058.38Q371.27,1060.16 371.51,1058.38L373.82,1041.05Q374.06,1039.26 374.41,1041.03L376.50,1051.43Q376.85,1053.20 376.99,1051.40L381.96,987.29Q382.10,985.50 382.18,987.30L385.69,1066.73Q385.77,1068.53 386.16,1070.28L388.73,1082.10Q389.12,1083.86 389.33,1085.64L391.70,1105.76Q391.91,1107.55 391.93,1105.75L396.07,816.80Q396.10,815.00 396.13,816.80L399.69,1043.04Q399.72,1044.84 399.97,1046.62L401.69,1058.38Q401.95,1060.16 402.17,1058.38L404.51,1039.65Q404.74,1037.87 405.23,1039.60L408.98,1052.86Q409.48,1054.59 409.57,1052.79L413.01,988.11Q413.10,986.31 413.18,988.11L416.92,1068.12Q417.01,1069.92 417.36,1071.68L419.44,1082.09Q419.79,1083.86 420.02,1085.64L422.63,1105.76Q422.86,1107.55 422.89,1105.75L426.97,823.30Q427.00,821.50 427.03,823.30L430.55,1044.43Q430.58,1046.23 430.58,1046.23L430.58,1046.23Q430.58,1046.23 430.86,1048.01L432.25,1056.99Q432.53,1058.77 433.15,1059.40L433.29,1059.54Q433.92,1060.16 434.16,1058.38L436.47,1041.05Q436.70,1039.26 437.20,1040.99L438.99,1047.29Q439.49,1049.02 440.11,1047.76L440.25,1047.48Q440.88,1046.23 440.98,1044.43L444.12,985.32Q444.22,983.52 444.30,985.32L447.76,1061.15Q447.84,1062.95 448.22,1064.71L450.80,1076.52Q451.18,1078.28 451.32,1080.08L453.27,1105.75Q453.41,1107.55 453.48,1105.75L458.07,992.29Q458.14,990.49 458.27,992.28L461.63,1037.47Q461.76,1039.26 462.16,1041.02L463.59,1047.26Q463.99,1049.02 464.28,1047.24L466.48,1034.07Q466.77,1032.29 467.44,1033.97L468.89,1037.59Q469.55,1039.26 470.07,1040.99L471.54,1045.90Q472.06,1047.62 472.34,1045.84L474.84,1029.89Q475.12,1028.11 475.29,1029.91L478.29,1061.16Q478.46,1062.95 478.96,1064.68L480.75,1070.98Q481.25,1072.71 481.43,1074.50L484.68,1105.75Q484.87,1107.55 484.96,1105.75L488.94,1032.70Q489.04,1030.90 489.36,1032.67L491.50,1044.46Q491.83,1046.23 492.15,1048.00L494.29,1059.79Q494.61,1061.56 494.85,1059.77L497.71,1038.26Q497.95,1036.47 498.52,1038.18L500.17,1043.13Q500.73,1044.84 501.20,1046.58L502.50,1051.46Q502.96,1053.20 503.55,1051.49L505.72,1045.15Q506.30,1043.44 506.58,1045.22L508.81,1059.78Q509.09,1061.56 509.42,1063.33L512.93,1082.09Q513.26,1083.86 513.41,1085.65L515.21,1107.55" fill="none" stroke="#1a7fc2" stroke-width="1.9" stroke-linejoin="round" stroke-linecap="butt"/>
<path d="M98.91,1050.41L102.42,996.47Q102.54,994.67 102.62,996.47L105.81,1068.12Q105.89,1069.92 106.31,1071.67L108.81,1082.10Q109.23,1083.86 109.44,1085.64L111.81,1105.76Q112.02,1107.55 112.05,1105.75L116.46,820.60Q116.48,818.80 116.51,820.60L119.80,1040.25Q119.83,1042.05 120.13,1043.82L122.60,1058.67Q122.90,1060.44 123.12,1058.66L125.18,1042.44Q125.41,1040.66 125.74,1042.42L128.42,1056.45Q128.75,1058.21 128.89,1056.42L133.63,996.46Q133.77,994.67 133.85,996.47L137.04,1068.12Q137.12,1069.92 137.47,1071.68L139.55,1082.09Q139.91,1083.86 140.14,1085.64L142.74,1105.76Q142.97,1107.55 143.00,1105.75L147.69,820.33Q147.72,818.53 147.75,820.33L151.87,1044.43Q151.90,1046.23 152.17,1048.01L153.86,1059.22Q154.13,1061.00 154.41,1059.22L157.20,1041.32Q157.48,1039.54 157.99,1041.27L160.03,1048.13Q160.54,1049.85 160.68,1048.06L164.87,993.12Q165.01,991.32 165.09,993.12L168.55,1068.12Q168.63,1069.92 168.98,1071.68L171.07,1082.09Q171.42,1083.86 171.63,1085.64L174.00,1105.76Q174.21,1107.55 174.24,1105.75L178.92,818.93Q178.95,817.13 178.99,818.93L183.93,1055.58Q183.97,1057.38 184.23,1055.60L187.05,1036.86Q187.31,1035.08 187.73,1036.83L190.52,1048.66Q190.94,1050.41 191.08,1048.62L195.54,990.05Q195.68,988.26 195.77,990.06L199.77,1068.12Q199.86,1069.92 200.22,1071.68L202.30,1082.09Q202.65,1083.86 202.86,1085.64L205.23,1105.76Q205.44,1107.55 205.46,1105.75L209.16,833.43Q209.18,831.63 209.22,833.43L213.33,1037.46Q213.37,1039.26 213.59,1041.05L215.38,1055.59Q215.60,1057.38 215.87,1055.60L218.11,1041.04Q218.39,1039.26 219.05,1040.93L221.06,1045.95Q221.73,1047.62 221.88,1045.83L226.61,986.71Q226.75,984.91 226.84,986.71L230.57,1062.55Q230.66,1064.35 231.28,1066.04L233.10,1071.02Q233.72,1072.71 233.87,1074.50L236.37,1105.75Q236.51,1107.55 236.58,1105.75L240.63,996.47Q240.69,994.67 240.83,996.46L243.91,1037.47Q244.04,1039.26 244.39,1041.03L245.92,1048.65Q246.27,1050.41 246.58,1048.64L249.31,1032.67Q249.62,1030.90 250.05,1032.65L253.36,1045.88Q253.80,1047.62 254.13,1045.85L257.65,1027.10Q257.98,1025.33 258.13,1027.12L260.62,1056.98Q260.77,1058.77 261.23,1060.51L263.94,1070.96Q264.40,1072.71 264.60,1074.50L268.10,1105.76Q268.30,1107.55 268.39,1105.75L271.84,1032.70Q271.93,1030.90 272.22,1032.68L276.66,1059.78Q276.95,1061.56 277.18,1059.77L280.05,1038.26Q280.29,1036.47 280.70,1038.23L284.07,1052.84Q284.48,1054.59 285.05,1052.88L288.09,1043.76Q288.66,1042.05 288.90,1043.83L292.60,1070.92Q292.84,1072.71 293.28,1074.45L295.19,1082.11Q295.63,1083.86 295.88,1085.64L298.72,1105.76Q298.98,1107.55 299.00,1105.75L302.58,811.69Q302.60,809.89 302.63,811.69L306.75,1043.04Q306.78,1044.84 307.06,1046.62L309.30,1061.17Q309.57,1062.95 309.76,1061.16L312.17,1038.27Q312.36,1036.47 312.66,1038.25L314.85,1051.42Q315.15,1053.20 315.30,1051.40L319.75,996.46Q319.89,994.67 319.98,996.47L323.43,1068.12Q323.52,1069.92 323.87,1071.68L325.95,1082.09Q326.31,1083.86 326.52,1085.64L328.88,1105.76Q329.09,1107.55 329.13,1105.75L334.15,818.93Q334.18,817.13 334.22,818.93L338.33,1043.04Q338.37,1044.84 338.65,1046.61L340.31,1056.99Q340.60,1058.77 340.75,1056.98L342.39,1038.27Q342.55,1036.47 342.82,1038.25L345.06,1052.81Q345.34,1054.59 345.50,1052.80L350.75,995.90Q350.91,994.11 351.01,995.91L355.00,1068.12Q355.10,1069.92 355.45,1071.68L357.53,1082.09Q357.89,1083.86 358.10,1085.64L360.46,1105.76Q360.67,1107.55 360.70,1105.75L364.83,821.72Q364.86,819.92 364.89,821.72L369.01,1043.04Q369.04,1044.84 369.30,1046.62L371.01,1058.38Q371.27,1060.16 371.51,1058.38L373.82,1041.05Q374.06,1039.26 374.41,1041.03L376.50,1051.43Q376.85,1053.20 377.00,1051.40L382.00,990.89Q382.15,989.09 382.23,990.89L385.69,1066.73Q385.77,1068.53 386.16,1070.28L388.73,1082.10Q389.12,1083.86 389.33,1085.64L391.70,1105.76Q391.91,1107.55 391.93,1105.75L396.06,818.93Q396.09,817.13 396.12,818.93L399.69,1043.04Q399.72,1044.84 399.97,1046.62L401.69,1058.38Q401.95,1060.16 402.17,1058.38L404.51,1039.65Q404.74,1037.87 405.23,1039.60L408.98,1052.86Q409.48,1054.59 409.57,1052.79L413.01,988.11Q413.10,986.31 413.18,988.11L416.92,1068.12Q417.01,1069.92 417.36,1071.68L419.44,1082.09Q419.79,1083.86 420.02,1085.64L422.63,1105.76Q422.86,1107.55 422.89,1105.75L426.93,834.82Q426.96,833.02 426.99,834.82L430.58,1046.23" fill="none" stroke="#ff7f0e" stroke-width="1.9" stroke-linejoin="round" stroke-linecap="butt"/>
<path d="M430.58,1046.23L432.25,1056.99Q432.53,1058.77 433.15,1059.40L433.29,1059.54Q433.92,1060.16 434.16,1058.38L436.47,1041.05Q436.70,1039.26 437.20,1040.99L438.99,1047.29Q439.49,1049.02 440.11,1047.76L440.25,1047.48Q440.88,1046.23 440.98,1044.43L444.12,985.32Q444.22,983.52 444.30,985.32L447.76,1061.15Q447.84,1062.95 448.22,1064.71L450.80,1076.52Q451.18,1078.28 451.32,1080.08L453.27,1105.75Q453.41,1107.55 453.48,1105.75L458.07,992.29Q458.14,990.49 458.27,992.28L461.63,1037.47Q461.76,1039.26 462.16,1041.02L463.59,1047.26Q463.99,1049.02 464.28,1047.24L466.48,1034.07Q466.77,1032.29 467.44,1033.97L468.89,1037.59Q469.55,1039.26 470.07,1040.99L471.54,1045.90Q472.06,1047.62 472.34,1045.84L474.84,1029.89Q475.12,1028.11 475.29,1029.91L478.29,1061.16Q478.46,1062.95 478.96,1064.68L480.75,1070.98Q481.25,1072.71 481.43,1074.50L484.68,1105.75Q484.87,1107.55 484.96,1105.75L488.94,1032.70Q489.04,1030.90 489.36,1032.67L491.50,1044.46Q491.83,1046.23 492.15,1048.00L494.29,1059.79Q494.61,1061.56 494.85,1059.77L497.71,1038.26Q497.95,1036.47 498.52,1038.18L500.17,1043.13Q500.73,1044.84 501.20,1046.58L502.50,1051.46Q502.96,1053.20 503.55,1051.49L505.72,1045.15Q506.30,1043.44 506.58,1045.22L508.81,1059.78Q509.09,1061.56 509.42,1063.33L512.93,1082.09Q513.26,1083.86 513.41,1085.65L515.21,1107.55" fill="none" stroke="#14a43a" stroke-width="1.9" stroke-linejoin="round" stroke-linecap="butt"/>
<rect x="78.4" y="794.2" width="457.6" height="329.20000000000005" fill="none" stroke="#6a6a6a" stroke-width="1.5"/>
<line x1="74.4" y1="1113.3" x2="78.4" y2="1113.3" stroke="#6a6a6a" stroke-width="1.3"/>
<text x="69.2" y="1118.7" text-anchor="end" class="ytc">0</text>
<line x1="74.4" y1="1069.2" x2="78.4" y2="1069.2" stroke="#6a6a6a" stroke-width="1.3"/>
<text x="69.2" y="1074.6" text-anchor="end" class="ytc" textLength="31.0" lengthAdjust="spacingAndGlyphs">2000</text>
<line x1="74.4" y1="1025.2" x2="78.4" y2="1025.2" stroke="#6a6a6a" stroke-width="1.3"/>
<text x="69.2" y="1030.6" text-anchor="end" class="ytc" textLength="31.0" lengthAdjust="spacingAndGlyphs">4000</text>
<line x1="74.4" y1="981.1" x2="78.4" y2="981.1" stroke="#6a6a6a" stroke-width="1.3"/>
<text x="69.2" y="986.5" text-anchor="end" class="ytc" textLength="31.0" lengthAdjust="spacingAndGlyphs">6000</text>
<line x1="74.4" y1="937.1" x2="78.4" y2="937.1" stroke="#6a6a6a" stroke-width="1.3"/>
<text x="69.2" y="942.5" text-anchor="end" class="ytc" textLength="31.0" lengthAdjust="spacingAndGlyphs">8000</text>
<line x1="74.4" y1="893.0" x2="78.4" y2="893.0" stroke="#6a6a6a" stroke-width="1.3"/>
<text x="69.2" y="898.4" text-anchor="end" class="ytc" textLength="39.6" lengthAdjust="spacingAndGlyphs">10,000</text>
<line x1="74.4" y1="848.9" x2="78.4" y2="848.9" stroke="#6a6a6a" stroke-width="1.3"/>
<text x="69.2" y="854.3" text-anchor="end" class="ytc" textLength="39.6" lengthAdjust="spacingAndGlyphs">12,000</text>
<line x1="74.4" y1="804.9" x2="78.4" y2="804.9" stroke="#6a6a6a" stroke-width="1.3"/>
<text x="69.2" y="810.3" text-anchor="end" class="ytc" textLength="39.6" lengthAdjust="spacingAndGlyphs">14,000</text>
<line x1="99.6" y1="1123.4" x2="99.6" y2="1127.4" stroke="#6a6a6a" stroke-width="1.3"/>
<text x="99.6" y="1140.2" text-anchor="middle" class="xt" textLength="5.4" lengthAdjust="spacingAndGlyphs">0</text>
<line x1="185.9" y1="1123.4" x2="185.9" y2="1127.4" stroke="#6a6a6a" stroke-width="1.3"/>
<text x="185.9" y="1140.2" text-anchor="middle" class="xt" textLength="10.8" lengthAdjust="spacingAndGlyphs">50</text>
<line x1="272.2" y1="1123.4" x2="272.2" y2="1127.4" stroke="#6a6a6a" stroke-width="1.3"/>
<text x="272.2" y="1140.2" text-anchor="middle" class="xt" textLength="16.2" lengthAdjust="spacingAndGlyphs">100</text>
<line x1="358.5" y1="1123.4" x2="358.5" y2="1127.4" stroke="#6a6a6a" stroke-width="1.3"/>
<text x="358.5" y="1140.2" text-anchor="middle" class="xt" textLength="16.2" lengthAdjust="spacingAndGlyphs">150</text>
<line x1="444.7" y1="1123.4" x2="444.7" y2="1127.4" stroke="#6a6a6a" stroke-width="1.3"/>
<text x="444.7" y="1140.2" text-anchor="middle" class="xt" textLength="16.2" lengthAdjust="spacingAndGlyphs">200</text>
<line x1="531.0" y1="1123.4" x2="531.0" y2="1127.4" stroke="#6a6a6a" stroke-width="1.3"/>
<text x="531.0" y="1140.2" text-anchor="middle" class="xt" textLength="16.2" lengthAdjust="spacingAndGlyphs">250</text>
<text transform="translate(23.5,960.3) rotate(-90)" x="0" y="0" text-anchor="middle" class="yl" textLength="91.2" lengthAdjust="spacingAndGlyphs">Passenger Flow</text>
<rect x="433.8" y="800.3" width="95.69999999999999" height="48.5" rx="2.5" ry="2.5" fill="#ffffff" fill-opacity="0.8" stroke="#d6d6d6" stroke-width="1"/>
<line x1="437.5" y1="808.6" x2="461.6" y2="808.6" stroke="#1a7fc2" stroke-width="1.9"/>
<text x="470" y="812.9" class="lg" textLength="49.9" lengthAdjust="spacingAndGlyphs">true flow</text>
<line x1="437.5" y1="823.9" x2="461.6" y2="823.9" stroke="#ff7f0e" stroke-width="1.9"/>
<text x="470" y="828.2" class="lg" textLength="55.5" lengthAdjust="spacingAndGlyphs">train flow</text>
<line x1="437.5" y1="839" x2="461.6" y2="839" stroke="#14a43a" stroke-width="1.9"/>
<text x="470" y="843.3" class="lg" textLength="49.9" lengthAdjust="spacingAndGlyphs">test flow</text>
<text x="128" y="386.6" class="cap" textLength="292.8" lengthAdjust="spacingAndGlyphs">(<tspan font-weight="bold">a</tspan>) Low interval passenger flows</text>
<text x="108.1" y="779.2" class="cap" textLength="332.6" lengthAdjust="spacingAndGlyphs">(<tspan font-weight="bold">b</tspan>) Medium interval passenger flows</text>
<text x="125.8" y="1168.7" class="cap" textLength="297.7" lengthAdjust="spacingAndGlyphs">(<tspan font-weight="bold">c</tspan>) High interval passenger flows</text>
</svg>
</body></html>
